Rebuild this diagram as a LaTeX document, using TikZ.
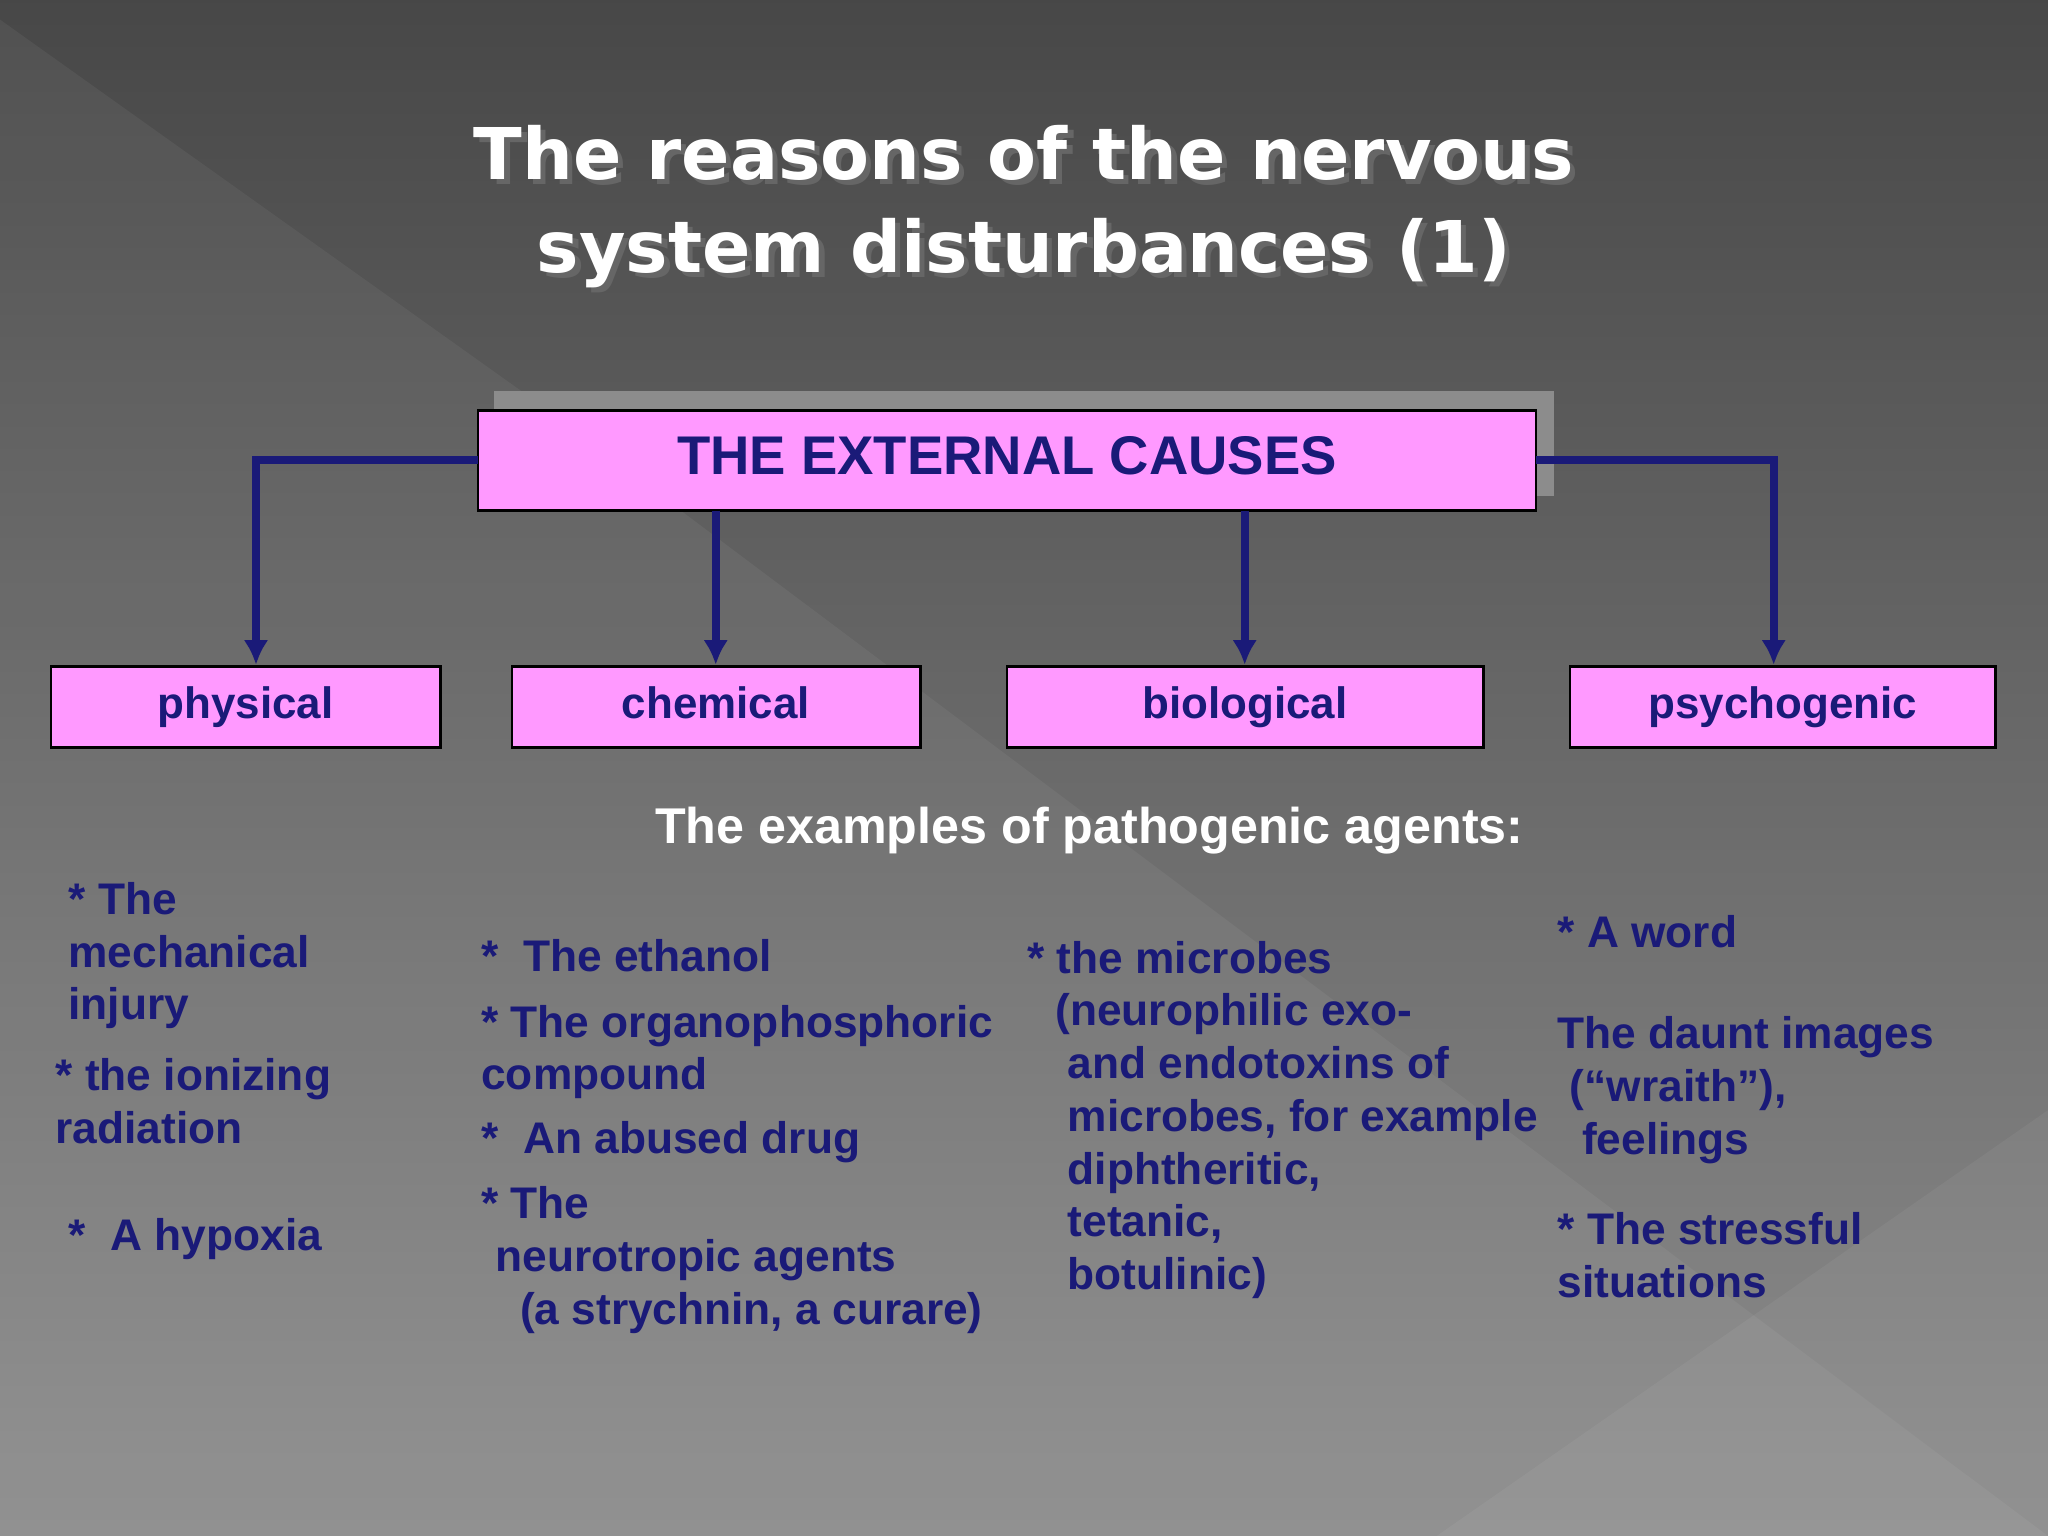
\documentclass[tikz,border=0pt]{standalone}
\usepackage{fontspec}
\setmainfont{Liberation Sans}
\newfontfamily\titlefont{DejaVu Sans}
\usetikzlibrary{arrows.meta}
\definecolor{navy}{HTML}{1A1A78}
\definecolor{boxpink}{HTML}{FF99FF}
\begin{document}
\begin{tikzpicture}[x=0.013061cm,y=-0.013061cm,
  lab/.style={text=navy,font=\bfseries\fontsize{12.5}{14}\selectfont,text height=9pt,text depth=2.5pt},
  con/.style={draw=navy,line width=2.2pt,-{Latex[length=7pt,width=7pt]}},
  item/.style={anchor=north west,align=left,inner sep=0pt,text=navy,font=\bfseries\fontsize{12.6}{15}\selectfont}]
\shade[top color=black!72,bottom color=black!45] (0,0) rectangle (1568,1176);
\fill[white,opacity=0.05] (0,15) -- (400,300) -- (1568,1176) -- (0,1176) -- cycle;
\fill[white,opacity=0.05] (1100,1176) -- (1568,850) -- (1568,1176) -- cycle;
\useasboundingbox (0,0) rectangle (1568,1176);
% title
\node[text=black!60,align=center,font=\titlefont\bfseries\fontsize{20.3}{26.5}\selectfont] at (788,162) {The reasons of the nervous\\system disturbances (1)};
\node[text=white,align=center,font=\titlefont\bfseries\fontsize{20.3}{26.5}\selectfont] (title) at (784,158) {The reasons of the nervous\\system disturbances (1)};
% main box
\fill[black!45] (378,299) rectangle (1190,380);
\draw[black,fill=boxpink,line width=0.8pt] (366,314) rectangle (1176,391);
\node[text=navy,font=\bfseries\fontsize{15.5}{18}\selectfont] (ext) at (771,349) {THE EXTERNAL CAUSES};
\coordinate (eL) at (366,352); \coordinate (eR) at (1176,352);
% category boxes
\draw[black,fill=boxpink,line width=0.8pt] (39,510) rectangle (337,572);
\draw[black,fill=boxpink,line width=0.8pt] (392,510) rectangle (705,572);
\draw[black,fill=boxpink,line width=0.8pt] (771,510) rectangle (1136,572);
\draw[black,fill=boxpink,line width=0.8pt] (1202,510) rectangle (1528,572);
\node[lab] (phy) at (188,541) {physical};
\node[lab] (che) at (548,541) {chemical};
\node[lab] (bio) at (953,541) {biological};
\node[lab] (psy) at (1365,541) {psychogenic};
\coordinate (pT) at (196,509); \coordinate (cT) at (548,509);
\coordinate (bT) at (953,509); \coordinate (sT) at (1358,509);
\draw[con] (eL) -| (pT);
\draw[con] (548,391) -- (cT);
\draw[con] (953,391) -- (bT);
\draw[con] (eR) -| (sT);
% subtitle
\node[text=white,font=\bfseries\fontsize{14.3}{17}\selectfont] (sub) at (834,636) {The examples of pathogenic agents:};
% items
\node[item] at (52,675) {* The\\mechanical\\injury};
\node[item] at (42,810) {* the ionizing\\radiation};
\node[item] at (52,932) {*\ \ A hypoxia};
\node[item] at (368,719) {*\ \ The ethanol};
\node[item] at (368,769) {* The organophosphoric\\compound};
\node[item] at (368,858) {*\ \ An abused drug};
\node[item] at (368,908) {* The\\\hspace*{4pt}neurotropic agents\\\hspace*{11pt}(a strychnin, a curare)};
\node[item] at (786,720) {* the microbes\\\hspace*{8pt}(neurophilic exo-\\\hspace*{11.5pt}and endotoxins of\\\hspace*{11.5pt}microbes, for example\\\hspace*{11.5pt}diphtheritic,\\\hspace*{11.5pt}tetanic,\\\hspace*{11.5pt}botulinic)};
\node[item] at (1192,700) {* A word};
\node[item] at (1192,778) {The daunt images\\\ (“wraith”),\\\ \ feelings};
\node[item] at (1192,928) {* The stressful\\situations};
\end{tikzpicture}
\end{document}
